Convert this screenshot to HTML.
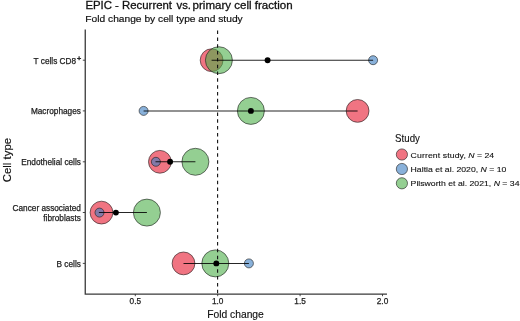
<!DOCTYPE html>
<html><head><meta charset="utf-8">
<style>
html,body{margin:0;padding:0;background:#fff;}
body{width:520px;height:321px;overflow:hidden;}
svg{display:block;}
text{font-family:"Liberation Sans",Arial,Helvetica,sans-serif;fill:#111;stroke:#111;stroke-width:0.3px;}
.tick text{font-size:8.25px;fill:#222;stroke:#222;stroke-width:0.25px;}
.leg text{font-size:8.7px;fill:#111;stroke-width:0.12px;}
</style></head><body>
<svg width="520" height="321" viewBox="0 0 520 321">
<rect width="520" height="321" fill="#fff"/>
<!-- titles -->
<g transform="translate(0,9.3) scale(1,0.91)" font-size="11.4"><text x="85.4" y="0">EPIC - Recurrent</text><text x="176.5" y="0">vs.</text><text x="192.6" y="0" style="font-size:11.55px">primary cell fraction</text></g>
<text transform="translate(85.3,21.8) scale(1,0.95)" font-size="10.24" style="stroke-width:0.2px">Fold change by cell type and study</text>
<!-- axis titles -->
<text transform="translate(235.5,317.9) scale(1,0.99)" font-size="10.3" style="stroke-width:0.15px" text-anchor="middle">Fold change</text>
<text transform="translate(10.7,160.1) rotate(-90) scale(1,0.95)" font-size="11.4" style="stroke-width:0.15px" text-anchor="middle">Cell type</text>
<!-- y tick labels -->
<g class="tick" text-anchor="end">
<text x="76.1" y="63.7">T cells CD8</text>
<text x="81.3" y="60.9" style="font-size:7.2px;stroke-width:0.45px" text-anchor="end">+</text>
<text x="80.9" y="114">Macrophages</text>
<text x="80.9" y="164.9">Endothelial cells</text>
<text x="80.9" y="211.4">Cancer associated</text>
<text x="80.9" y="220.5">fibroblasts</text>
<text x="80.9" y="266.9">B cells</text>
</g>
<!-- x tick labels -->
<g class="tick" text-anchor="middle">
<text x="135.3" y="304.2">0.5</text>
<text x="217.7" y="304.2">1.0</text>
<text x="300.1" y="304.2">1.5</text>
<text x="382.5" y="304.2">2.0</text>
</g>
<!-- circles -->
<g stroke="#1a1a1a" stroke-width="0.6">
 <g fill="#E6172F" fill-opacity="0.6">
  <circle cx="211.6" cy="60.2" r="11.4"/>
  <circle cx="357.6" cy="110.9" r="11.4"/>
  <circle cx="159.9" cy="161.8" r="11.4"/>
  <circle cx="101.5" cy="212.6" r="11.4"/>
  <circle cx="183.5" cy="263.4" r="11.4"/>
 </g>
 <g fill="#3A7DC2" fill-opacity="0.6">
  <circle cx="373.1" cy="60.2" r="4.5"/>
  <circle cx="143.6" cy="110.9" r="4.5"/>
  <circle cx="155.9" cy="161.8" r="4.5"/>
  <circle cx="99.5" cy="212.6" r="4.5"/>
  <circle cx="248.9" cy="263.4" r="4.5"/>
 </g>
 <g fill="#4DAF4A" fill-opacity="0.6">
  <circle cx="218.9" cy="60.2" r="13.5"/>
  <circle cx="250.9" cy="110.9" r="13.5"/>
  <circle cx="195.4" cy="161.8" r="13.5"/>
  <circle cx="146.9" cy="212.6" r="13.5"/>
  <circle cx="215.3" cy="263.4" r="13.5"/>
 </g>
</g>
<!-- dashed ref line -->
<line x1="217.6" y1="30.6" x2="217.6" y2="294" stroke="#111" stroke-width="1.1" stroke-dasharray="3.5,3.32"/>
<!-- range lines -->
<g stroke="#000" stroke-width="1.05" stroke-opacity="0.85">
 <line x1="211.6" y1="60.2" x2="373.1" y2="60.2"/>
 <line x1="143.6" y1="110.9" x2="357.6" y2="110.9"/>
 <line x1="155.5" y1="161.8" x2="195.4" y2="161.8"/>
 <line x1="98.9" y1="212.5" x2="146.9" y2="212.5"/>
 <line x1="183.5" y1="263.4" x2="248.9" y2="263.4"/>
</g>
<!-- mean dots -->
<g fill="#000">
 <circle cx="267.6" cy="60.2" r="2.95"/>
 <circle cx="250.9" cy="110.9" r="2.95"/>
 <circle cx="170.1" cy="161.8" r="2.95"/>
 <circle cx="115.9" cy="212.6" r="2.95"/>
 <circle cx="216.3" cy="263.4" r="2.95"/>
</g>
<!-- axes -->
<g stroke="#333" stroke-width="1" fill="none">
 <path d="M85.25,29.4 V294.05 H387" stroke-width="1.3" stroke="#3a3a3a" stroke-linejoin="miter"/>
 <g stroke-width="0.9">
 <line x1="82.8" y1="60.2" x2="85" y2="60.2"/>
 <line x1="82.8" y1="110.9" x2="85" y2="110.9"/>
 <line x1="82.8" y1="161.8" x2="85" y2="161.8"/>
 <line x1="82.8" y1="212.5" x2="85" y2="212.5"/>
 <line x1="82.8" y1="263.4" x2="85" y2="263.4"/>
 <line x1="135.3" y1="294" x2="135.3" y2="296.2"/>
 <line x1="217.7" y1="294" x2="217.7" y2="296.2"/>
 <line x1="300.1" y1="294" x2="300.1" y2="296.2"/>
 <line x1="382.5" y1="294" x2="382.5" y2="296.2"/>
 </g>
</g>
<!-- legend -->
<text transform="translate(395.1,141.6) scale(0.925,1)" font-size="10.5" style="stroke-width:0.12px">Study</text>
<g stroke="#1a1a1a" stroke-width="0.6">
 <circle cx="401.9" cy="154.5" r="5.6" fill="#E6172F" fill-opacity="0.6"/>
 <circle cx="401.9" cy="169" r="5.6" fill="#3A7DC2" fill-opacity="0.6"/>
 <circle cx="401.9" cy="183.3" r="5.6" fill="#4DAF4A" fill-opacity="0.6"/>
</g>
<g class="leg">
<text transform="translate(410.6,157.6) scale(1,0.92)"><tspan letter-spacing="0.1">Current study,</tspan> <tspan font-style="italic">N</tspan> = 24</text>
<text transform="translate(410.6,171.8) scale(1,0.92)">Haltia et al. 2020, <tspan font-style="italic">N</tspan> = 10</text>
<text transform="translate(410.6,186.1) scale(1,0.92)">Pilsworth et al. 2021, <tspan font-style="italic">N</tspan> = 34</text>
</g>
</svg>
</body></html>
